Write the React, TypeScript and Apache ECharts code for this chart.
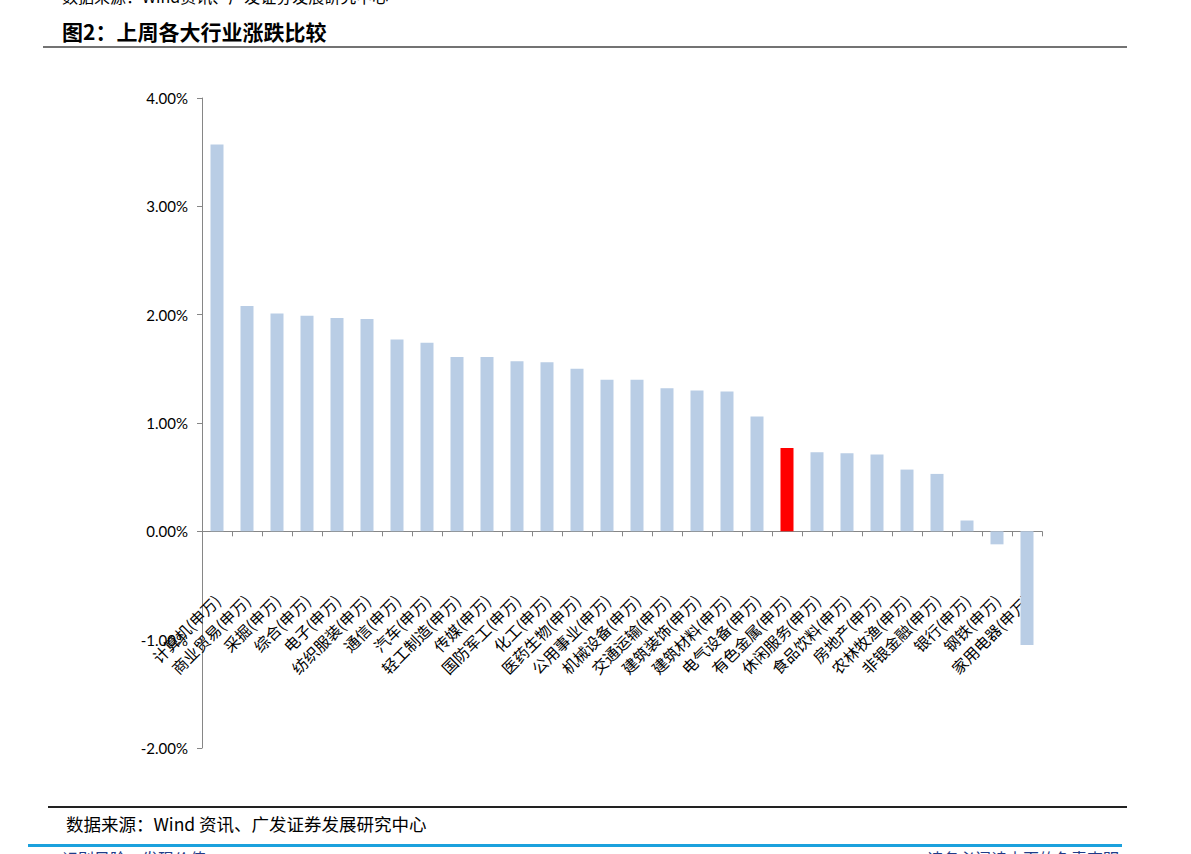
import React, { useEffect, useRef } from "react";
import * as echarts from "echarts";

const categories = [
  "计算机(申万)", "商业贸易(申万)", "采掘(申万)", "综合(申万)", "电子(申万)", "纺织服装(申万)",
  "通信(申万)", "汽车(申万)", "轻工制造(申万)", "传媒(申万)", "国防军工(申万)", "化工(申万)",
  "医药生物(申万)", "公用事业(申万)", "机械设备(申万)", "交通运输(申万)", "建筑装饰(申万)",
  "建筑材料(申万)", "电气设备(申万)", "有色金属(申万)", "休闲服务(申万)", "食品饮料(申万)",
  "房地产(申万)", "农林牧渔(申万)", "非银金融(申万)", "银行(申万)", "钢铁(申万)", "家用电器(申万)",
];

const values = [
  3.57, 2.08, 2.01, 1.99, 1.97, 1.96,
  1.77, 1.74, 1.61, 1.61, 1.57, 1.56,
  1.50, 1.40, 1.40, 1.32, 1.30,
  1.29, 1.06, 0.77, 0.73, 0.72,
  0.71, 0.57, 0.53, 0.10, -0.12, -1.05,
];

const highlightCategory = "有色金属(申万)";

const yTicks = { min: -2, max: 4, interval: 1 };

const title = "图2：上周各大行业涨跌比较";
const sourceText = "数据来源：Wind 资讯、广发证券发展研究中心";
const topClipped = "数据来源：Wind资讯、广发证券发展研究中心";
const footerLeft = "识别风险，发现价值";
const footerRight = "请务必阅读末页的免责声明";

const CJK = '"Noto Sans CJK SC", sans-serif';

const GRID_TOP = 98;
const GRID_BOTTOM_Y = 748;

export default function App() {
  const ref = useRef<HTMLDivElement>(null);
  useEffect(() => {
    if (!ref.current) return;
    const chart = echarts.init(ref.current, undefined, { renderer: "svg" });
    // place the category axis at the value-axis zero line
    const plotH = GRID_BOTTOM_Y - GRID_TOP;
    const zeroOffset = (plotH * (0 - yTicks.min)) / (yTicks.max - yTicks.min);
    chart.setOption({
      animation: false,
      backgroundColor: "#ffffff",
      grid: {
        left: 202,
        right: 149,
        top: GRID_TOP,
        bottom: 854 - GRID_BOTTOM_Y,
        containLabel: false,
        outerBoundsMode: "none",
      },
      xAxis: {
        type: "category",
        data: categories,
        position: "bottom",
        offset: -zeroOffset,
        axisLine: { onZero: false, lineStyle: { color: "#868686", width: 1 } },
        axisTick: { show: true, length: 5, lineStyle: { color: "#868686" } },
        axisLabel: {
          rotate: 45,
          interval: 0,
          margin: 66,
          fontSize: 15.5,
          color: "#000",
          fontFamily: CJK,
        },
      },
      yAxis: {
        type: "value",
        min: yTicks.min,
        max: yTicks.max,
        interval: yTicks.interval,
        axisLine: { show: true, lineStyle: { color: "#868686", width: 1 } },
        axisTick: { show: true, length: 5, lineStyle: { color: "#868686" } },
        splitLine: { show: false },
        axisLabel: {
          margin: 14,
          fontSize: 15,
          color: "#000",
          fontFamily: "Lato, 'Open Sans', sans-serif",
          formatter: (v: number) => v.toFixed(2) + "%",
        },
      },
      series: [
        {
          type: "bar",
          barWidth: 13,
          data: values.map((v, i) => ({
            value: v,
            itemStyle: {
              color: categories[i] === highlightCategory ? "#ff0000" : "#b9cde5",
            },
          })),
        },
      ],
      graphic: [
        {
          type: "text",
          left: 62,
          top: -12,
          style: { text: topClipped, fontSize: 16, fill: "#000", fontFamily: CJK },
        },
        {
          type: "text",
          left: 62,
          top: 20,
          style: { text: title, fontSize: 21, fontWeight: "bold", fill: "#000", fontFamily: CJK },
        },
        {
          type: "line",
          shape: { x1: 43, y1: 47, x2: 1127, y2: 47 },
          style: { stroke: "#444", lineWidth: 1.5 },
        },
        {
          type: "line",
          shape: { x1: 48, y1: 807, x2: 1127, y2: 807 },
          style: { stroke: "#222", lineWidth: 2 },
        },
        {
          type: "text",
          left: 66,
          top: 815,
          style: { text: sourceText, fontSize: 17.5, fill: "#000", fontFamily: CJK },
        },
        {
          type: "line",
          shape: { x1: 28, y1: 845.5, x2: 1122, y2: 845.5 },
          style: { stroke: "#1ba1dd", lineWidth: 3 },
        },
        {
          type: "text",
          left: 62,
          top: 850,
          style: { text: footerLeft, fontSize: 16, fill: "#1f3c88", fontFamily: CJK },
        },
        {
          type: "text",
          right: 72,
          top: 850,
          style: { text: footerRight, fontSize: 16, fill: "#1f3c88", fontFamily: CJK },
        },
      ],
    });
    return () => chart.dispose();
  }, []);
  return (
    <div
      ref={ref}
      style={{ position: "fixed", left: 0, top: 0, width: 1191, height: 854, background: "#fff" }}
    />
  );
}
